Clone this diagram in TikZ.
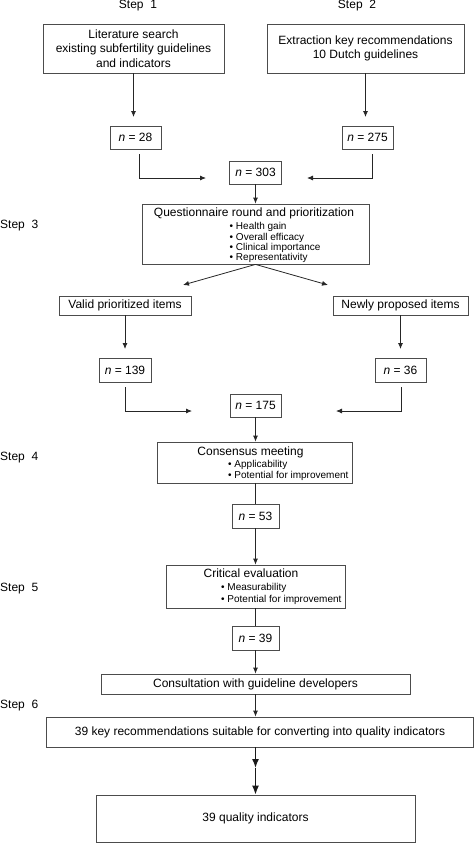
\documentclass[tikz,border=0pt]{standalone}
\usepackage{fontspec}
\setmainfont{Liberation Sans}
\usetikzlibrary{arrows.meta}

\begin{document}
\begin{tikzpicture}
  [x=1pt, y=-1pt,
   box/.style={draw=black!70, line width=0.8pt, inner sep=0pt, align=center,
     font=\fontsize{12}{14.5}\selectfont},
   count/.style={box, minimum width=51pt, minimum height=23pt},
   boxtitle/.style={inner sep=0pt, anchor=base, font=\fontsize{12}{14.5}\selectfont},
   bullets/.style={inner sep=0pt, anchor=north west, align=left},
   steplabel/.style={inner sep=0pt, anchor=base west, font=\fontsize{12}{14}\selectfont},
   arr/.style={draw=black!85, line width=0.8pt, -{Latex[length=6pt,width=5pt]}},
   link/.style={draw=black!85, line width=0.8pt},
   bigarr/.style={draw=black!90, line width=1.4pt, -{Latex[length=9pt,width=7pt]}}]

  \useasboundingbox (0,0) rectangle (474,843);

  \node[steplabel, anchor=base] (s1) at (138,9) {Step\ \ 1};
  \node[steplabel, anchor=base] (s2) at (357,9) {Step\ \ 2};
  \node[steplabel] (s3) at (0,228.3) {Step\ \ 3};
  \node[steplabel] (s4) at (0,460.3) {Step\ \ 4};
  \node[steplabel] (s5) at (0,591.3) {Step\ \ 5};
  \node[steplabel] (s6) at (0,708.3) {Step\ \ 6};

  \node[box, minimum width=181pt, minimum height=49pt] (lit) at (133.5,48.5)
    {Literature search\\existing subfertility guidelines\\and indicators};
  \node[box, minimum width=197pt, minimum height=49pt] (ext) at (365.5,48.5)
    {Extraction key recommendations\\10 Dutch guidelines};
  \node[count] (n28) at (135.5,137.5) {\textit{n} = 28};
  \node[count] (n275) at (367.5,137.5) {\textit{n} = 275};
  \node[count, minimum width=52pt] (n303) at (255.5,172.5) {\textit{n} = 303};

  \node[box, minimum width=227pt, minimum height=60pt] (quest) at (255.5,234) {};
  \node[boxtitle] (questT) at (254,216.3) {Questionnaire round and prioritization};
  \node[bullets, font=\fontsize{10}{10.2}\selectfont] (questL) at (229.5,222.5)
    {• Health gain\\• Overall efficacy\\• Clinical importance\\• Representativity};

  \node[box, minimum width=132pt, minimum height=19pt] (valid) at (125,305.5) {Valid prioritized items};
  \node[box, minimum width=135pt, minimum height=19pt] (newly) at (400.5,305.5) {Newly proposed items};
  \node[count, minimum width=52pt, minimum height=24pt] (n139) at (125,370) {\textit{n} = 139};
  \node[count, minimum height=24pt] (n36) at (400.5,370) {\textit{n} = 36};
  \node[count] (n175) at (255.5,405.5) {\textit{n} = 175};

  \node[box, minimum width=195pt, minimum height=41pt] (cons) at (254.5,462.5) {};
  \node[boxtitle] (consT) at (250.5,455.3) {Consensus meeting};
  \node[bullets, font=\fontsize{10}{11}\selectfont] (consL) at (228,460.5)
    {• Applicability\\• Potential for improvement};
  \node[count, minimum width=47pt, minimum height=24pt] (n53) at (255.5,516) {\textit{n} = 53};

  \node[box, minimum width=179pt, minimum height=43pt] (crit) at (255.5,586.5) {};
  \node[boxtitle] (critT) at (251,577.3) {Critical evaluation};
  \node[bullets, font=\fontsize{10}{12}\selectfont] (critL) at (221,583.5)
    {• Measurability\\• Potential for improvement};
  \node[count, minimum width=47pt, minimum height=24pt] (n39) at (255.5,638) {\textit{n} = 39};

  \node[box, minimum width=309pt, minimum height=20pt] (consult) at (255.5,684)
    {Consultation with guideline developers};
  \node[box, minimum width=427pt, minimum height=30pt] (keyrec) at (260,732)
    {39 key recommendations suitable for converting into quality indicators};
  \node[box, minimum width=319pt, minimum height=47pt] (qual) at (255.5,818.5)
    {39 quality indicators};

  \coordinate (tip28) at (133.5,117);
  \coordinate (tip275) at (365.5,117);
  \coordinate (from28) at (139,154);
  \coordinate (from275) at (372,154);
  \coordinate (tip303L) at (206,178);
  \coordinate (tip303R) at (307,178);
  \coordinate (tipValid) at (183,285);
  \coordinate (tipNew) at (328,285);
  \coordinate (tip139) at (125,349);
  \coordinate (tip36) at (400.5,349);
  \coordinate (from139) at (125,387);
  \coordinate (from36) at (401,387);
  \coordinate (tip175L) at (192,411);
  \coordinate (tip175R) at (336,411);
  \coordinate (midkq) at (255.5,768);

  \draw[arr] (lit.south) -- (tip28);
  \draw[arr] (ext.south) -- (tip275);
  \draw[arr] (from28) |- (tip303L);
  \draw[arr] (from275) |- (tip303R);
  \draw[arr] (n303) -- (quest);
  \draw[arr] (quest.south) -- (tipValid);
  \draw[arr] (quest.south) -- (tipNew);
  \draw[arr] (valid.south) -- (tip139);
  \draw[arr] (newly.south) -- (tip36);
  \draw[arr] (from139) |- (tip175L);
  \draw[arr] (from36) |- (tip175R);
  \draw[arr] (n175) -- (cons.north -| n175);
  \draw[link] (cons.south -| n53) -- (n53);
  \draw[arr] (n53) -- (crit);
  \draw[link] (crit) -- (n39);
  \draw[arr] (n39) -- (consult);
  \draw[arr] (consult) -- (consult.south |- keyrec.north);
  \draw[bigarr] (qual.north |- keyrec.south) -- (midkq);
  \draw[bigarr] (midkq) -- (qual.north);
\end{tikzpicture}
\end{document}
